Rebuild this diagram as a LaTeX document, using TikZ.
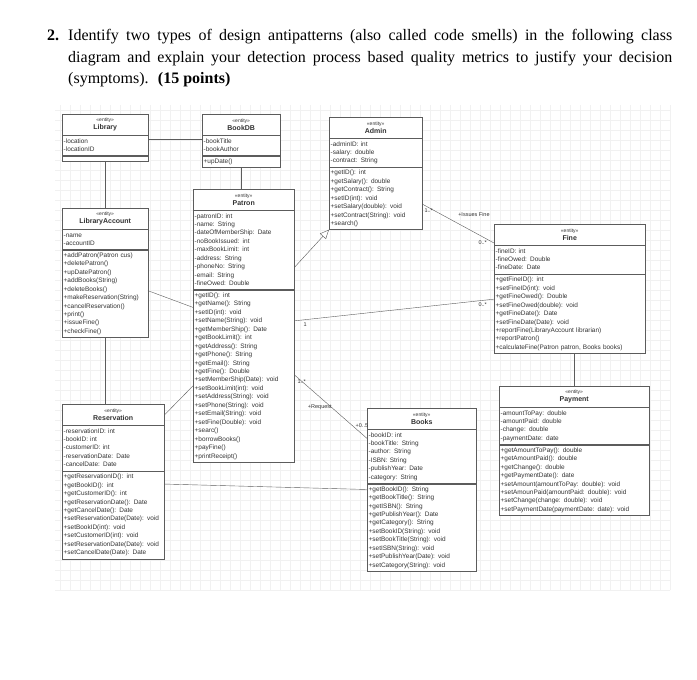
\documentclass[tikz,border=0pt]{standalone}
\usepackage{fontspec}
\setmainfont{Liberation Serif}
\newfontfamily\umlfont{Liberation Sans}
\usetikzlibrary{arrows.meta,calc}
\definecolor{umltext}{HTML}{333333}
\definecolor{umlline}{HTML}{5C5C5C}
\definecolor{gridc}{HTML}{F1F1F1}
\newcommand{\entitytag}{{\fontsize{5}{6}\selectfont «entity»}}

\begin{document}
\begin{tikzpicture}[x=1pt, y=-1pt,
    head/.style={draw=umlline, fill=white, anchor=north west, minimum width=#1pt, minimum height=21pt, inner sep=0pt, align=center, text=umltext, font=\umlfont\fontsize{7}{8}\selectfont},
    part/.style={draw=umlline, fill=white, anchor=north west, text width=#1pt, inner xsep=1.5pt, inner ysep=1.5pt, align=left, text=umltext, font=\umlfont\fontsize{6.45}{8.45}\selectfont, execute at begin node=\strut, execute at end node=\strut},
    link/.style={draw=umlline, thin},
    mult/.style={font=\umlfont\fontsize{5.5}{6}\selectfont, text=umltext, inner sep=0pt},
    question/.style={anchor=base west, inner sep=0pt, font=\fontsize{16}{19}\selectfont}
]
    \useasboundingbox[fill=white] (0,0) rectangle (697,680);
    \draw[gridc, step=10pt] (55,590) grid (670,105);

    % Question
    \node[question, font=\fontsize{16}{19}\selectfont\bfseries] (qnum) at (47,41) {2.};
    \node[question] (qline1) at (68,41) {\makebox[604pt][s]{Identify two types of design antipatterns (also called code smells) in the following class}};
    \node[question] (qline2) at (68,62) {\makebox[604pt][s]{diagram and explain your detection process based quality metrics to justify your decision}};
    \node[question] (qline3) at (68,83) {(symptoms).~ \textbf{(15 points)}};

    % Classes
    \node[head=86] (library) at (62,114) {\entitytag\\\textbf{Library}};
    \node[part=83] (library_a) at (library.south west) {-location\\-locationID};
    \node[draw=umlline, fill=white, anchor=north west, minimum width=86pt, minimum height=5pt, inner sep=0pt] (library_m) at (library_a.south west) {};

    \node[head=78] (bookdb) at (202,114) {\entitytag\\\textbf{BookDB}};
    \node[part=75] (bookdb_a) at (bookdb.south west) {-bookTitle\\-bookAuthor};
    \node[part=75] (bookdb_m) at (bookdb_a.south west) {+upDate()};

    \node[head=93] (admin) at (329,117) {\entitytag\\\textbf{Admin}};
    \node[part=90] (admin_a) at (admin.south west) {-adminID: int\\-salary: double\\-contract: String};
    \node[part=90] (admin_m) at (admin_a.south west) {+getID(): int\\+getSalary(): double\\+getContract(): String\\+setID(int): void\\+setSalary(double): void\\+setContract(String): void\\+search()};

    \node[head=101] (patron) at (193,189) {\entitytag\\\textbf{Patron}};
    \node[part=98] (patron_a) at (patron.south west) {-patronID: int\\-name: String\\-dateOfMemberShip: Date\\-noBookIssued: int\\-maxBookLimit: int\\-address: String\\-phoneNo: String\\-email: String\\-fineOwed: Double};
    \node[part=98] (patron_m) at (patron_a.south west) {+getID(): int\\+getName(): String\\+setID(int): void\\+setName(String): void\\+getMemberShip(): Date\\+getBookLimit(): int\\+getAddress(): String\\+getPhone(): String\\+getEmail(): String\\+getFine(): Double\\+setMemberShip(Date): void\\+setBookLimit(int): void\\+setAddress(String): void\\+setPhone(String): void\\+setEmail(String): void\\+setFine(Double): void\\+searc()\\+borrowBooks()\\+payFine()\\+printReceipt()};

    \node[head=86] (libacc) at (62,208) {\entitytag\\\textbf{LibraryAccount}};
    \node[part=83] (libacc_a) at (libacc.south west) {-name\\-accountID};
    \node[part=83] (libacc_m) at (libacc_a.south west) {+addPatron(Patron cus)\\+deletePatron()\\+upDatePatron()\\+addBooks(String)\\+deleteBooks()\\+makeReservation(String)\\+cancelReservation()\\+print()\\+issueFine()\\+checkFine()};

    \node[head=151] (fine) at (494,224) {\entitytag\\\textbf{Fine}};
    \node[part=148] (fine_a) at (fine.south west) {-fineID: int\\-fineOwed: Double\\-fineDate: Date};
    \node[part=148] (fine_m) at (fine_a.south west) {+getFineID(): int\\+setFineID(int): void\\+getFineOwed(): Double\\+setFineOwed(double): void\\+getFineDate(): Date\\+setFineDate(Date): void\\+reportFine(LibraryAccount librarian)\\+reportPatron()\\+calculateFine(Patron patron, Books books)};

    \node[head=102] (reserv) at (62,404) {\entitytag\\\textbf{Reservation}};
    \node[part=99] (reserv_a) at (reserv.south west) {-reservationID: int\\-bookID: int\\-customerID: int\\-reservationDate: Date\\-cancelDate: Date};
    \node[part=99] (reserv_m) at (reserv_a.south west) {+getReservationID(): int\\+getBookID(): int\\+getCustomerID(): int\\+getReservationDate(): Date\\+getCancelDate(): Date\\+setReservationDate(Date): void\\+setBookID(int): void\\+setCustomerID(int): void\\+setReservationDate(Date): void\\+setCancelDate(Date): Date};

    \node[head=109] (books) at (367,408) {\entitytag\\\textbf{Books}};
    \node[part=106] (books_a) at (books.south west) {-bookID: int\\-bookTitle: String\\-author: String\\-ISBN: String\\-publishYear: Date\\-category: String};
    \node[part=106] (books_m) at (books_a.south west) {+getBookID(): String\\+getBookTitle(): String\\+getISBN(): String\\+getPublishYear(): Date\\+getCategory(): String\\+setBookID(String): void\\+setBookTitle(String): void\\+setISBN(String): void\\+setPublishYear(Date): void\\+setCategory(String): void};

    \node[head=150] (payment) at (499,386) {\entitytag\\\textbf{Payment}};
    \node[part=147] (payment_a) at (payment.south west) {-amountToPay: double\\-amountPaid: double\\-change: double\\-paymentDate: date};
    \node[part=147] (payment_m) at (payment_a.south west) {+getAmountToPay(): double\\+getAmountPaid(): double\\+getChange(): double\\+getPaymentDate(): date\\+setAmount(amountToPay: double): void\\+setAmounPaid(amountPaid: double): void\\+setChange(change: double): void\\+setPaymentDate(paymentDate: date): void};

    % Plain links
    \draw[link] ($(library_a.north east)+(0,4)$) -- ($(bookdb_a.north west)+(0,4)$);
    \draw[link] (library_m.south) -- (libacc.north);
    \draw[link] (bookdb_m.south) -- (bookdb_m.south |- patron.north);
    \draw[link] (libacc_m.south) -- (libacc_m.south |- reserv.north);
    \draw[link] ($(libacc_m.north west)+(86,41)$) -- ($(patron_a.north west)+(0,97)$);
    \draw[link] ($(reserv.north east)+(0,11)$) -- ($(patron_m.north west)+(0,96)$);
    \draw[link] ($(reserv_m.north east)+(0,13)$) -- ($(books_m.north west)+(0,6)$);
    \draw[link] (payment.north) -- (payment.north |- fine_m.south);

    % Generalization
    \draw[link, -{Triangle[open, length=9pt, width=8pt]}] ($(patron_a.north east)+(0,57)$) -- (admin_m.south west);

    % Associations
    \draw[link] ($(admin_m.north east)+(0,37)$) -- ($(fine.north west)+(0,19)$)
        node[mult, at start, anchor=north west, xshift=2pt, yshift=-4pt] (af_src) {1..*}
        node[mult, pos=0.72, yshift=17.5pt] (af_role) {+Issues Fine}
        node[mult, at end, anchor=east, xshift=-7pt] (af_dst) {0..*};
    \draw[link] ($(patron_m.north east)+(0,31)$) -- ($(fine_m.north west)+(0,25)$)
        node[mult, at start, anchor=west, xshift=9pt, yshift=-4pt] (pf_src) {1}
        node[mult, at end, anchor=east, xshift=-7pt, yshift=-5pt] (pf_dst) {0..*};
    \draw[link] ($(patron_m.north east)+(0,85)$) -- ($(books_a.north west)+(0,9)$)
        node[mult, at start, anchor=north west, xshift=3pt, yshift=-5pt] (pb_src) {1..*}
        node[mult, pos=0.35, yshift=-10.5pt] (pb_role) {+Request}
        node[mult, pos=0.93, yshift=8.5pt] (pb_dst) {+0..5};
\end{tikzpicture}
\end{document}
